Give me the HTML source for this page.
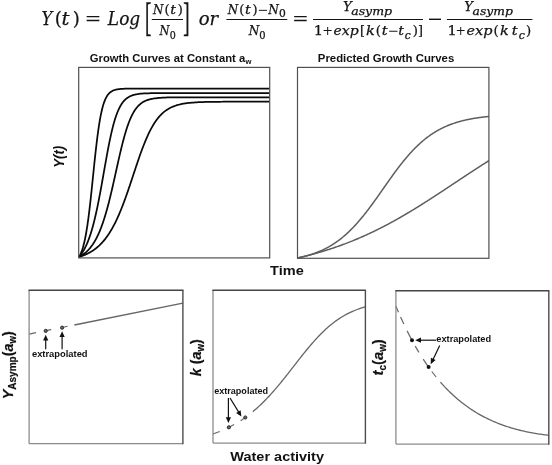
<!DOCTYPE html>
<html><head><meta charset="utf-8"><title>Growth model</title>
<style>
html,body{margin:0;padding:0;background:#fff;}
svg{display:block;}
.ser{font-family:"DejaVu Serif","Liberation Serif",serif;}
.san{font-family:"Liberation Sans","DejaVu Sans",sans-serif;}
.lser{font-family:"Liberation Serif","DejaVu Serif",serif;}
</style></head><body>
<svg width="552" height="465" viewBox="0 0 552 465">
<rect width="552" height="465" fill="#fff"/>
<text x="41.39" y="25.0" font-size="18.2" font-style="italic" font-weight="normal" class="ser" fill="#141414" textLength="10.81" lengthAdjust="spacingAndGlyphs" stroke="#141414" stroke-width="0.25">Y</text>
<text x="54.78" y="24.6" font-size="18.2" class="ser" fill="#141414" stroke="#141414" stroke-width="0.25">(</text>
<text x="61.42" y="25.0" font-size="18.2" font-style="italic" font-weight="normal" class="ser" fill="#141414" textLength="7.95" lengthAdjust="spacingAndGlyphs" stroke="#141414" stroke-width="0.25">t</text>
<text x="72.68" y="24.6" font-size="18.2" class="ser" fill="#141414" stroke="#141414" stroke-width="0.25">)</text>
<text x="84.45" y="25.0" font-size="18.2" font-weight="normal" class="ser" fill="#141414" textLength="17.00" lengthAdjust="spacingAndGlyphs">=</text>
<text x="107.86" y="25.0" font-size="18.2" font-style="italic" font-weight="normal" class="ser" fill="#141414" textLength="32.37" lengthAdjust="spacingAndGlyphs" stroke="#141414" stroke-width="0.25">Log</text>
<text transform="translate(145.09,30.7) scale(1,2.07)" font-size="19" class="lser" fill="#141414" stroke="#141414" stroke-width="0.25">[</text>
<text transform="translate(183.28,30.7) scale(1,2.07)" font-size="19" class="lser" fill="#141414" stroke="#141414" stroke-width="0.25">]</text>
<text x="152.94" y="14.4" font-size="12.4" font-style="italic" font-weight="normal" class="ser" fill="#141414" textLength="10.42" lengthAdjust="spacingAndGlyphs" stroke="#141414" stroke-width="0.25">N</text>
<text x="164.61" y="14.3" font-size="13.0" class="ser" fill="#141414" stroke="#141414" stroke-width="0.25">(</text>
<text x="170.33" y="14.4" font-size="12.4" font-style="italic" font-weight="normal" class="ser" fill="#141414" textLength="5.73" lengthAdjust="spacingAndGlyphs" stroke="#141414" stroke-width="0.25">t</text>
<text x="177.77" y="14.3" font-size="13.0" class="ser" fill="#141414" stroke="#141414" stroke-width="0.25">)</text>
<line x1="151.8" y1="19.5" x2="183.0" y2="19.5" stroke="#141414" stroke-width="1.0"/>
<text x="159.53" y="34.7" font-size="12.700000000000001" font-style="italic" font-weight="normal" class="ser" fill="#141414" textLength="10.04" lengthAdjust="spacingAndGlyphs" stroke="#141414" stroke-width="0.25">N</text>
<text x="169.77" y="38.9" font-size="10.4" font-weight="normal" class="ser" fill="#141414" textLength="6.06" lengthAdjust="spacingAndGlyphs" stroke="#141414" stroke-width="0.25">0</text>
<text x="198.63" y="25.0" font-size="18.2" font-style="italic" font-weight="normal" class="ser" fill="#141414" textLength="19.48" lengthAdjust="spacingAndGlyphs" stroke="#141414" stroke-width="0.25">or</text>
<text x="227.64" y="14.4" font-size="12.4" font-style="italic" font-weight="normal" class="ser" fill="#141414" textLength="10.42" lengthAdjust="spacingAndGlyphs" stroke="#141414" stroke-width="0.25">N</text>
<text x="239.31" y="14.3" font-size="13.0" class="ser" fill="#141414" stroke="#141414" stroke-width="0.25">(</text>
<text x="245.03" y="14.4" font-size="12.4" font-style="italic" font-weight="normal" class="ser" fill="#141414" textLength="5.73" lengthAdjust="spacingAndGlyphs" stroke="#141414" stroke-width="0.25">t</text>
<text x="252.47" y="14.3" font-size="13.0" class="ser" fill="#141414" stroke="#141414" stroke-width="0.25">)</text>
<text x="257.41" y="14.4" font-size="12.4" font-weight="normal" class="ser" fill="#141414" textLength="10.98" lengthAdjust="spacingAndGlyphs">−</text>
<text x="268.14" y="14.4" font-size="12.4" font-style="italic" font-weight="normal" class="ser" fill="#141414" textLength="10.61" lengthAdjust="spacingAndGlyphs" stroke="#141414" stroke-width="0.25">N</text>
<text x="278.99" y="17.4" font-size="10.4" font-weight="normal" class="ser" fill="#141414" textLength="6.82" lengthAdjust="spacingAndGlyphs" stroke="#141414" stroke-width="0.25">0</text>
<line x1="226.4" y1="19.5" x2="287.3" y2="19.5" stroke="#141414" stroke-width="1.0"/>
<text x="248.84" y="34.7" font-size="12.700000000000001" font-style="italic" font-weight="normal" class="ser" fill="#141414" textLength="10.61" lengthAdjust="spacingAndGlyphs" stroke="#141414" stroke-width="0.25">N</text>
<text x="259.25" y="38.9" font-size="10.4" font-weight="normal" class="ser" fill="#141414" textLength="6.31" lengthAdjust="spacingAndGlyphs" stroke="#141414" stroke-width="0.25">0</text>
<text x="291.97" y="25.0" font-size="18.2" font-weight="normal" class="ser" fill="#141414" textLength="16.87" lengthAdjust="spacingAndGlyphs">=</text>
<line x1="313.0" y1="19.5" x2="423.0" y2="19.5" stroke="#141414" stroke-width="1.0"/>
<text x="343.04" y="11.4" font-size="12.4" font-style="italic" font-weight="normal" class="ser" fill="#141414" textLength="8.80" lengthAdjust="spacingAndGlyphs" stroke="#141414" stroke-width="0.25">Y</text>
<text x="351.18" y="15.0" font-size="10.6" font-style="italic" font-weight="normal" class="ser" fill="#141414" textLength="40.92" lengthAdjust="spacingAndGlyphs" stroke="#141414" stroke-width="0.25">asymp</text>
<text x="313.65" y="34.8" font-size="12.700000000000001" font-weight="normal" class="ser" fill="#141414" textLength="9.29" lengthAdjust="spacingAndGlyphs" stroke="#141414" stroke-width="0.25">1</text>
<text x="322.23" y="34.8" font-size="12.700000000000001" font-weight="normal" class="ser" fill="#141414" textLength="10.84" lengthAdjust="spacingAndGlyphs">+</text>
<text x="333.50" y="34.8" font-size="12.700000000000001" font-style="italic" font-weight="normal" class="ser" fill="#141414" textLength="25.23" lengthAdjust="spacingAndGlyphs" stroke="#141414" stroke-width="0.25">exp</text>
<text x="359.97" y="34.8" font-size="12.700000000000001" class="ser" fill="#141414" stroke="#141414" stroke-width="0.25">[</text>
<text x="365.99" y="34.8" font-size="12.700000000000001" font-style="italic" font-weight="normal" class="ser" fill="#141414" textLength="8.85" lengthAdjust="spacingAndGlyphs" stroke="#141414" stroke-width="0.25">k</text>
<text x="375.75" y="34.7" font-size="13.3" class="ser" fill="#141414" stroke="#141414" stroke-width="0.25">(</text>
<text x="381.81" y="34.8" font-size="12.700000000000001" font-style="italic" font-weight="normal" class="ser" fill="#141414" textLength="5.87" lengthAdjust="spacingAndGlyphs" stroke="#141414" stroke-width="0.25">t</text>
<text x="387.90" y="34.8" font-size="12.700000000000001" font-weight="normal" class="ser" fill="#141414" textLength="11.11" lengthAdjust="spacingAndGlyphs">−</text>
<text x="398.32" y="34.8" font-size="12.700000000000001" font-style="italic" font-weight="normal" class="ser" fill="#141414" textLength="5.76" lengthAdjust="spacingAndGlyphs" stroke="#141414" stroke-width="0.25">t</text>
<text x="404.84" y="38.6" font-size="10.6" font-style="italic" font-weight="normal" class="ser" fill="#141414" textLength="6.07" lengthAdjust="spacingAndGlyphs" stroke="#141414" stroke-width="0.25">c</text>
<text x="412.71" y="34.7" font-size="13.3" class="ser" fill="#141414" stroke="#141414" stroke-width="0.25">)</text>
<text x="417.93" y="34.8" font-size="12.700000000000001" class="ser" fill="#141414" stroke="#141414" stroke-width="0.25">]</text>
<text x="427.07" y="25.2" font-size="18.2" font-weight="normal" class="ser" fill="#141414" textLength="16.06" lengthAdjust="spacingAndGlyphs">−</text>
<line x1="446.9" y1="19.5" x2="532.4" y2="19.5" stroke="#141414" stroke-width="1.0"/>
<text x="464.35" y="11.4" font-size="12.4" font-style="italic" font-weight="normal" class="ser" fill="#141414" textLength="8.70" lengthAdjust="spacingAndGlyphs" stroke="#141414" stroke-width="0.25">Y</text>
<text x="472.58" y="15.0" font-size="10.6" font-style="italic" font-weight="normal" class="ser" fill="#141414" textLength="40.20" lengthAdjust="spacingAndGlyphs" stroke="#141414" stroke-width="0.25">asymp</text>
<text x="447.40" y="34.8" font-size="12.700000000000001" font-weight="normal" class="ser" fill="#141414" textLength="9.29" lengthAdjust="spacingAndGlyphs" stroke="#141414" stroke-width="0.25">1</text>
<text x="455.38" y="34.8" font-size="12.700000000000001" font-weight="normal" class="ser" fill="#141414" textLength="10.44" lengthAdjust="spacingAndGlyphs">+</text>
<text x="466.59" y="34.8" font-size="12.700000000000001" font-style="italic" font-weight="normal" class="ser" fill="#141414" textLength="25.95" lengthAdjust="spacingAndGlyphs" stroke="#141414" stroke-width="0.25">exp</text>
<text x="493.50" y="34.7" font-size="13.3" class="ser" fill="#141414" stroke="#141414" stroke-width="0.25">(</text>
<text x="499.99" y="34.8" font-size="12.700000000000001" font-style="italic" font-weight="normal" class="ser" fill="#141414" textLength="8.85" lengthAdjust="spacingAndGlyphs" stroke="#141414" stroke-width="0.25">k</text>
<text x="511.86" y="34.8" font-size="12.700000000000001" font-style="italic" font-weight="normal" class="ser" fill="#141414" textLength="5.87" lengthAdjust="spacingAndGlyphs" stroke="#141414" stroke-width="0.25">t</text>
<text x="518.83" y="38.6" font-size="10.6" font-style="italic" font-weight="normal" class="ser" fill="#141414" textLength="6.18" lengthAdjust="spacingAndGlyphs" stroke="#141414" stroke-width="0.25">c</text>
<text x="526.06" y="34.7" font-size="13.3" class="ser" fill="#141414" stroke="#141414" stroke-width="0.25">)</text>
<clipPath id="c1"><rect x="77.7" y="67.4" width="192.0" height="191.5"/></clipPath>
<path d="M78.90,257.00 L79.30,256.35 L79.71,255.64 L80.11,254.88 L80.51,254.05 L80.91,253.16 L81.32,252.19 L81.72,251.14 L82.12,250.01 L82.52,248.79 L82.93,247.48 L83.33,246.07 L83.73,244.55 L84.13,242.93 L84.54,241.19 L84.94,239.34 L85.34,237.36 L85.75,235.25 L86.15,233.02 L86.55,230.65 L86.95,228.15 L87.36,225.51 L87.76,222.73 L88.16,219.83 L88.56,216.79 L88.97,213.62 L89.37,210.33 L89.77,206.92 L90.18,203.41 L90.58,199.80 L90.98,196.10 L91.38,192.33 L91.79,188.49 L92.19,184.61 L92.59,180.70 L92.99,176.77 L93.40,172.83 L93.80,168.91 L94.20,165.03 L94.60,161.18 L95.01,157.40 L95.41,153.68 L95.81,150.06 L96.22,146.53 L96.62,143.10 L97.02,139.79 L97.42,136.60 L97.83,133.54 L98.23,130.61 L98.63,127.81 L99.03,125.15 L99.44,122.62 L99.84,120.23 L100.24,117.97 L100.64,115.84 L101.05,113.84 L101.45,111.97 L101.85,110.21 L102.26,108.57 L102.66,107.03 L103.06,105.60 L103.46,104.28 L103.87,103.04 L104.27,101.90 L104.67,100.83 L105.07,99.85 L105.48,98.94 L105.88,98.10 L106.28,97.33 L106.69,96.61 L107.09,95.95 L107.49,95.34 L107.89,94.79 L108.30,94.27 L108.70,93.80 L109.10,93.36 L109.50,92.96 L109.91,92.60 L110.31,92.26 L110.71,91.95 L111.11,91.67 L111.52,91.41 L111.92,91.17 L112.32,90.95 L112.73,90.75 L113.13,90.56 L113.53,90.40 L113.93,90.24 L114.34,90.10 L114.74,89.97 L115.14,89.85 L115.54,89.74 L115.95,89.64 L116.35,89.55 L116.75,89.47 L117.16,89.39 L117.56,89.33 L117.96,89.26 L118.36,89.20 L118.77,89.15 L119.17,89.10 L119.57,89.06 L119.97,89.02 L120.38,88.98 L120.78,88.94 L121.18,88.91 L121.58,88.88 L121.99,88.86 L122.39,88.83 L122.79,88.81 L123.20,88.79 L123.60,88.77 L124.00,88.76 L124.40,88.74 L124.81,88.73 L125.21,88.72 L125.61,88.70 L126.01,88.69 L126.42,88.68 L126.82,88.67 L127.22,88.67 L127.62,88.66 L128.03,88.65 L128.43,88.65 L128.83,88.64 L129.24,88.64 L129.64,88.63 L130.04,88.63 L130.44,88.62 L130.85,88.62 L131.25,88.61 L131.65,88.61 L132.05,88.61 L132.46,88.61 L132.86,88.60 L133.26,88.60 L133.67,88.60 L134.07,88.60 L134.47,88.60 L134.87,88.60 L135.28,88.59 L135.68,88.59 L136.08,88.59 L136.48,88.59 L136.89,88.59 L137.29,88.59 L137.69,88.59 L138.09,88.59 L138.50,88.59 L138.90,88.59 L140.56,88.58 L142.21,88.58 L143.87,88.58 L145.52,88.58 L147.18,88.58 L148.83,88.58 L150.49,88.58 L152.15,88.58 L153.80,88.58 L155.46,88.58 L157.11,88.58 L158.77,88.58 L160.42,88.58 L162.08,88.58 L163.74,88.58 L165.39,88.58 L167.05,88.58 L168.70,88.58 L170.36,88.58 L172.01,88.58 L173.67,88.58 L175.33,88.58 L176.98,88.58 L178.64,88.58 L180.29,88.58 L181.95,88.58 L183.60,88.58 L185.26,88.58 L186.92,88.58 L188.57,88.58 L190.23,88.58 L191.88,88.58 L193.54,88.58 L195.19,88.58 L196.85,88.58 L198.51,88.58 L200.16,88.58 L201.82,88.58 L203.47,88.58 L205.13,88.58 L206.78,88.58 L208.44,88.58 L210.09,88.58 L211.75,88.58 L213.41,88.58 L215.06,88.58 L216.72,88.58 L218.37,88.58 L220.03,88.58 L221.68,88.58 L223.34,88.58 L225.00,88.58 L226.65,88.58 L228.31,88.58 L229.96,88.58 L231.62,88.58 L233.27,88.58 L234.93,88.58 L236.59,88.58 L238.24,88.58 L239.90,88.58 L241.55,88.58 L243.21,88.58 L244.86,88.58 L246.52,88.58 L248.18,88.58 L249.83,88.58 L251.49,88.58 L253.14,88.58 L254.80,88.58 L256.45,88.58 L258.11,88.58 L259.77,88.58 L261.42,88.58 L263.08,88.58 L264.73,88.58 L266.39,88.58 L268.04,88.58 L269.70,88.58" fill="none" stroke="#0a0a0a" stroke-width="1.75" stroke-linejoin="round" clip-path="url(#c1)"/>
<path d="M78.90,257.00 L79.30,256.54 L79.71,256.07 L80.11,255.57 L80.51,255.06 L80.91,254.53 L81.32,253.98 L81.72,253.41 L82.12,252.81 L82.52,252.20 L82.93,251.56 L83.33,250.89 L83.73,250.21 L84.13,249.49 L84.54,248.75 L84.94,247.99 L85.34,247.19 L85.75,246.37 L86.15,245.52 L86.55,244.64 L86.95,243.73 L87.36,242.78 L87.76,241.80 L88.16,240.79 L88.56,239.75 L88.97,238.67 L89.37,237.55 L89.77,236.40 L90.18,235.21 L90.58,233.98 L90.98,232.71 L91.38,231.40 L91.79,230.05 L92.19,228.67 L92.59,227.24 L92.99,225.77 L93.40,224.25 L93.80,222.70 L94.20,221.10 L94.60,219.46 L95.01,217.78 L95.41,216.06 L95.81,214.30 L96.22,212.49 L96.62,210.65 L97.02,208.76 L97.42,206.84 L97.83,204.88 L98.23,202.88 L98.63,200.85 L99.03,198.78 L99.44,196.68 L99.84,194.55 L100.24,192.40 L100.64,190.22 L101.05,188.01 L101.45,185.78 L101.85,183.54 L102.26,181.28 L102.66,179.01 L103.06,176.73 L103.46,174.45 L103.87,172.16 L104.27,169.87 L104.67,167.58 L105.07,165.31 L105.48,163.04 L105.88,160.79 L106.28,158.56 L106.69,156.34 L107.09,154.15 L107.49,151.99 L107.89,149.86 L108.30,147.75 L108.70,145.69 L109.10,143.66 L109.50,141.67 L109.91,139.72 L110.31,137.82 L110.71,135.96 L111.11,134.15 L111.52,132.39 L111.92,130.68 L112.32,129.01 L112.73,127.40 L113.13,125.84 L113.53,124.33 L113.93,122.87 L114.34,121.46 L114.74,120.10 L115.14,118.80 L115.54,117.54 L115.95,116.33 L116.35,115.17 L116.75,114.06 L117.16,113.00 L117.56,111.98 L117.96,111.01 L118.36,110.08 L118.77,109.19 L119.17,108.34 L119.57,107.53 L119.97,106.76 L120.38,106.03 L120.78,105.33 L121.18,104.66 L121.58,104.03 L121.99,103.43 L122.39,102.86 L122.79,102.32 L123.20,101.81 L123.60,101.33 L124.00,100.87 L124.40,100.43 L124.81,100.02 L125.21,99.63 L125.61,99.26 L126.01,98.91 L126.42,98.57 L126.82,98.26 L127.22,97.97 L127.62,97.69 L128.03,97.42 L128.43,97.17 L128.83,96.94 L129.24,96.71 L129.64,96.50 L130.04,96.31 L130.44,96.12 L130.85,95.94 L131.25,95.78 L131.65,95.62 L132.05,95.47 L132.46,95.33 L132.86,95.20 L133.26,95.08 L133.67,94.96 L134.07,94.85 L134.47,94.74 L134.87,94.65 L135.28,94.55 L135.68,94.47 L136.08,94.39 L136.48,94.31 L136.89,94.24 L137.29,94.17 L137.69,94.10 L138.09,94.04 L138.50,93.99 L138.90,93.93 L140.56,93.74 L142.21,93.59 L143.87,93.48 L145.52,93.39 L147.18,93.32 L148.83,93.26 L150.49,93.22 L152.15,93.19 L153.80,93.16 L155.46,93.14 L157.11,93.12 L158.77,93.11 L160.42,93.10 L162.08,93.09 L163.74,93.09 L165.39,93.08 L167.05,93.08 L168.70,93.08 L170.36,93.08 L172.01,93.07 L173.67,93.07 L175.33,93.07 L176.98,93.07 L178.64,93.07 L180.29,93.07 L181.95,93.07 L183.60,93.07 L185.26,93.07 L186.92,93.07 L188.57,93.07 L190.23,93.07 L191.88,93.07 L193.54,93.07 L195.19,93.07 L196.85,93.07 L198.51,93.07 L200.16,93.07 L201.82,93.07 L203.47,93.07 L205.13,93.07 L206.78,93.07 L208.44,93.07 L210.09,93.07 L211.75,93.07 L213.41,93.07 L215.06,93.07 L216.72,93.07 L218.37,93.07 L220.03,93.07 L221.68,93.07 L223.34,93.07 L225.00,93.07 L226.65,93.07 L228.31,93.07 L229.96,93.07 L231.62,93.07 L233.27,93.07 L234.93,93.07 L236.59,93.07 L238.24,93.07 L239.90,93.07 L241.55,93.07 L243.21,93.07 L244.86,93.07 L246.52,93.07 L248.18,93.07 L249.83,93.07 L251.49,93.07 L253.14,93.07 L254.80,93.07 L256.45,93.07 L258.11,93.07 L259.77,93.07 L261.42,93.07 L263.08,93.07 L264.73,93.07 L266.39,93.07 L268.04,93.07 L269.70,93.07" fill="none" stroke="#0a0a0a" stroke-width="1.75" stroke-linejoin="round" clip-path="url(#c1)"/>
<path d="M78.90,257.00 L79.30,256.79 L79.71,256.58 L80.11,256.36 L80.51,256.13 L80.91,255.89 L81.32,255.65 L81.72,255.40 L82.12,255.14 L82.52,254.87 L82.93,254.60 L83.33,254.31 L83.73,254.02 L84.13,253.72 L84.54,253.40 L84.94,253.08 L85.34,252.75 L85.75,252.41 L86.15,252.05 L86.55,251.69 L86.95,251.31 L87.36,250.92 L87.76,250.52 L88.16,250.11 L88.56,249.68 L88.97,249.24 L89.37,248.79 L89.77,248.32 L90.18,247.84 L90.58,247.34 L90.98,246.83 L91.38,246.31 L91.79,245.76 L92.19,245.20 L92.59,244.63 L92.99,244.03 L93.40,243.42 L93.80,242.79 L94.20,242.14 L94.60,241.47 L95.01,240.79 L95.41,240.08 L95.81,239.35 L96.22,238.60 L96.62,237.83 L97.02,237.04 L97.42,236.22 L97.83,235.38 L98.23,234.52 L98.63,233.64 L99.03,232.73 L99.44,231.79 L99.84,230.84 L100.24,229.85 L100.64,228.84 L101.05,227.80 L101.45,226.74 L101.85,225.65 L102.26,224.54 L102.66,223.39 L103.06,222.22 L103.46,221.02 L103.87,219.80 L104.27,218.54 L104.67,217.26 L105.07,215.95 L105.48,214.61 L105.88,213.24 L106.28,211.85 L106.69,210.43 L107.09,208.98 L107.49,207.50 L107.89,206.00 L108.30,204.48 L108.70,202.92 L109.10,201.34 L109.50,199.74 L109.91,198.12 L110.31,196.47 L110.71,194.80 L111.11,193.11 L111.52,191.41 L111.92,189.68 L112.32,187.94 L112.73,186.18 L113.13,184.41 L113.53,182.63 L113.93,180.83 L114.34,179.03 L114.74,177.22 L115.14,175.40 L115.54,173.58 L115.95,171.76 L116.35,169.94 L116.75,168.12 L117.16,166.30 L117.56,164.49 L117.96,162.69 L118.36,160.89 L118.77,159.11 L119.17,157.34 L119.57,155.59 L119.97,153.85 L120.38,152.13 L120.78,150.43 L121.18,148.76 L121.58,147.10 L121.99,145.48 L122.39,143.87 L122.79,142.30 L123.20,140.75 L123.60,139.24 L124.00,137.75 L124.40,136.29 L124.81,134.87 L125.21,133.48 L125.61,132.13 L126.01,130.80 L126.42,129.52 L126.82,128.26 L127.22,127.05 L127.62,125.86 L128.03,124.71 L128.43,123.60 L128.83,122.52 L129.24,121.48 L129.64,120.46 L130.04,119.49 L130.44,118.54 L130.85,117.63 L131.25,116.75 L131.65,115.91 L132.05,115.09 L132.46,114.30 L132.86,113.55 L133.26,112.82 L133.67,112.12 L134.07,111.45 L134.47,110.80 L134.87,110.19 L135.28,109.59 L135.68,109.02 L136.08,108.48 L136.48,107.96 L136.89,107.46 L137.29,106.98 L137.69,106.52 L138.09,106.08 L138.50,105.67 L138.90,105.27 L140.56,103.80 L142.21,102.59 L143.87,101.60 L145.52,100.79 L147.18,100.12 L148.83,99.58 L150.49,99.14 L152.15,98.78 L153.80,98.49 L155.46,98.26 L157.11,98.07 L158.77,97.91 L160.42,97.79 L162.08,97.69 L163.74,97.61 L165.39,97.54 L167.05,97.49 L168.70,97.45 L170.36,97.41 L172.01,97.38 L173.67,97.36 L175.33,97.34 L176.98,97.33 L178.64,97.32 L180.29,97.31 L181.95,97.30 L183.60,97.29 L185.26,97.29 L186.92,97.28 L188.57,97.28 L190.23,97.28 L191.88,97.27 L193.54,97.27 L195.19,97.27 L196.85,97.27 L198.51,97.27 L200.16,97.27 L201.82,97.27 L203.47,97.27 L205.13,97.27 L206.78,97.27 L208.44,97.27 L210.09,97.27 L211.75,97.27 L213.41,97.27 L215.06,97.27 L216.72,97.27 L218.37,97.27 L220.03,97.27 L221.68,97.27 L223.34,97.27 L225.00,97.27 L226.65,97.27 L228.31,97.27 L229.96,97.27 L231.62,97.27 L233.27,97.27 L234.93,97.27 L236.59,97.27 L238.24,97.27 L239.90,97.27 L241.55,97.27 L243.21,97.27 L244.86,97.27 L246.52,97.27 L248.18,97.27 L249.83,97.27 L251.49,97.27 L253.14,97.27 L254.80,97.27 L256.45,97.27 L258.11,97.27 L259.77,97.27 L261.42,97.27 L263.08,97.27 L264.73,97.27 L266.39,97.27 L268.04,97.27 L269.70,97.27" fill="none" stroke="#0a0a0a" stroke-width="1.75" stroke-linejoin="round" clip-path="url(#c1)"/>
<path d="M78.90,257.00 L79.30,256.88 L79.71,256.75 L80.11,256.62 L80.51,256.49 L80.91,256.35 L81.32,256.21 L81.72,256.07 L82.12,255.93 L82.52,255.78 L82.93,255.63 L83.33,255.47 L83.73,255.31 L84.13,255.15 L84.54,254.99 L84.94,254.82 L85.34,254.64 L85.75,254.46 L86.15,254.28 L86.55,254.10 L86.95,253.91 L87.36,253.71 L87.76,253.51 L88.16,253.31 L88.56,253.10 L88.97,252.89 L89.37,252.67 L89.77,252.45 L90.18,252.22 L90.58,251.99 L90.98,251.75 L91.38,251.50 L91.79,251.26 L92.19,251.00 L92.59,250.74 L92.99,250.47 L93.40,250.20 L93.80,249.92 L94.20,249.64 L94.60,249.35 L95.01,249.05 L95.41,248.75 L95.81,248.44 L96.22,248.12 L96.62,247.80 L97.02,247.46 L97.42,247.13 L97.83,246.78 L98.23,246.43 L98.63,246.06 L99.03,245.70 L99.44,245.32 L99.84,244.93 L100.24,244.54 L100.64,244.14 L101.05,243.73 L101.45,243.31 L101.85,242.88 L102.26,242.44 L102.66,242.00 L103.06,241.54 L103.46,241.08 L103.87,240.60 L104.27,240.12 L104.67,239.62 L105.07,239.12 L105.48,238.61 L105.88,238.08 L106.28,237.55 L106.69,237.00 L107.09,236.44 L107.49,235.87 L107.89,235.30 L108.30,234.71 L108.70,234.10 L109.10,233.49 L109.50,232.87 L109.91,232.23 L110.31,231.58 L110.71,230.92 L111.11,230.25 L111.52,229.56 L111.92,228.86 L112.32,228.15 L112.73,227.43 L113.13,226.70 L113.53,225.95 L113.93,225.19 L114.34,224.41 L114.74,223.63 L115.14,222.83 L115.54,222.01 L115.95,221.19 L116.35,220.35 L116.75,219.50 L117.16,218.63 L117.56,217.75 L117.96,216.86 L118.36,215.95 L118.77,215.04 L119.17,214.11 L119.57,213.16 L119.97,212.21 L120.38,211.24 L120.78,210.26 L121.18,209.26 L121.58,208.26 L121.99,207.24 L122.39,206.21 L122.79,205.17 L123.20,204.11 L123.60,203.05 L124.00,201.97 L124.40,200.89 L124.81,199.79 L125.21,198.68 L125.61,197.57 L126.01,196.44 L126.42,195.31 L126.82,194.16 L127.22,193.01 L127.62,191.85 L128.03,190.68 L128.43,189.51 L128.83,188.33 L129.24,187.14 L129.64,185.95 L130.04,184.75 L130.44,183.55 L130.85,182.35 L131.25,181.14 L131.65,179.92 L132.05,178.71 L132.46,177.49 L132.86,176.28 L133.26,175.06 L133.67,173.84 L134.07,172.62 L134.47,171.41 L134.87,170.19 L135.28,168.98 L135.68,167.77 L136.08,166.56 L136.48,165.36 L136.89,164.17 L137.29,162.98 L137.69,161.79 L138.09,160.61 L138.50,159.44 L138.90,158.28 L140.56,153.58 L142.21,149.06 L143.87,144.74 L145.52,140.65 L147.18,136.80 L148.83,133.22 L150.49,129.89 L152.15,126.83 L153.80,124.04 L155.46,121.50 L157.11,119.20 L158.77,117.13 L160.42,115.28 L162.08,113.63 L163.74,112.16 L165.39,110.85 L167.05,109.70 L168.70,108.68 L170.36,107.79 L172.01,107.01 L173.67,106.32 L175.33,105.72 L176.98,105.19 L178.64,104.73 L180.29,104.33 L181.95,103.98 L183.60,103.68 L185.26,103.42 L186.92,103.19 L188.57,102.99 L190.23,102.81 L191.88,102.66 L193.54,102.53 L195.19,102.42 L196.85,102.32 L198.51,102.23 L200.16,102.16 L201.82,102.10 L203.47,102.04 L205.13,101.99 L206.78,101.95 L208.44,101.91 L210.09,101.88 L211.75,101.86 L213.41,101.83 L215.06,101.81 L216.72,101.79 L218.37,101.78 L220.03,101.76 L221.68,101.75 L223.34,101.74 L225.00,101.73 L226.65,101.73 L228.31,101.72 L229.96,101.72 L231.62,101.71 L233.27,101.71 L234.93,101.70 L236.59,101.70 L238.24,101.70 L239.90,101.69 L241.55,101.69 L243.21,101.69 L244.86,101.69 L246.52,101.69 L248.18,101.69 L249.83,101.69 L251.49,101.68 L253.14,101.68 L254.80,101.68 L256.45,101.68 L258.11,101.68 L259.77,101.68 L261.42,101.68 L263.08,101.68 L264.73,101.68 L266.39,101.68 L268.04,101.68 L269.70,101.68" fill="none" stroke="#0a0a0a" stroke-width="1.75" stroke-linejoin="round" clip-path="url(#c1)"/>
<rect x="78.7" y="67.4" width="191.0" height="190.5" fill="none" stroke="#505050" stroke-width="1.2"/>
<path d="M297.50,258.00 L298.14,257.87 L298.78,257.74 L299.42,257.60 L300.06,257.46 L300.70,257.32 L301.34,257.17 L301.98,257.03 L302.62,256.87 L303.26,256.72 L303.90,256.56 L304.54,256.40 L305.18,256.23 L305.82,256.06 L306.46,255.89 L307.10,255.71 L307.74,255.53 L308.38,255.34 L309.02,255.15 L309.66,254.96 L310.30,254.76 L310.94,254.56 L311.58,254.35 L312.22,254.14 L312.86,253.92 L313.50,253.70 L314.14,253.48 L314.78,253.25 L315.42,253.01 L316.06,252.77 L316.70,252.53 L317.34,252.28 L317.98,252.02 L318.62,251.76 L319.26,251.49 L319.90,251.22 L320.54,250.94 L321.18,250.66 L321.83,250.37 L322.47,250.08 L323.11,249.78 L323.75,249.47 L324.39,249.16 L325.03,248.84 L325.67,248.51 L326.31,248.18 L326.95,247.84 L327.59,247.50 L328.23,247.14 L328.87,246.78 L329.51,246.42 L330.15,246.05 L330.79,245.67 L331.43,245.28 L332.07,244.89 L332.71,244.49 L333.35,244.08 L333.99,243.66 L334.63,243.24 L335.27,242.81 L335.91,242.37 L336.55,241.92 L337.19,241.47 L337.83,241.00 L338.47,240.53 L339.11,240.06 L339.75,239.57 L340.39,239.07 L341.03,238.57 L341.67,238.06 L342.31,237.54 L342.95,237.01 L343.59,236.48 L344.23,235.93 L344.87,235.38 L345.51,234.82 L346.15,234.25 L346.79,233.67 L347.43,233.08 L348.07,232.48 L348.71,231.88 L349.35,231.27 L349.99,230.65 L350.63,230.02 L351.27,229.38 L351.91,228.73 L352.55,228.07 L353.19,227.41 L353.83,226.74 L354.47,226.05 L355.11,225.37 L355.75,224.67 L356.39,223.96 L357.03,223.25 L357.67,222.52 L358.31,221.79 L358.95,221.06 L359.59,220.31 L360.23,219.55 L360.87,218.79 L361.51,218.02 L362.15,217.25 L362.79,216.46 L363.43,215.67 L364.07,214.87 L364.71,214.07 L365.35,213.26 L365.99,212.44 L366.63,211.61 L367.27,210.78 L367.91,209.95 L368.55,209.10 L369.19,208.25 L369.84,207.40 L370.48,206.54 L371.12,205.68 L371.76,204.81 L372.40,203.94 L373.04,203.06 L373.68,202.18 L374.32,201.29 L374.96,200.40 L375.60,199.51 L376.24,198.61 L376.88,197.71 L377.52,196.81 L378.16,195.91 L378.80,195.00 L379.44,194.09 L380.08,193.18 L380.72,192.27 L381.36,191.36 L382.00,190.44 L382.64,189.53 L383.28,188.62 L383.92,187.70 L384.56,186.79 L385.20,185.88 L385.84,184.96 L386.48,184.05 L387.12,183.14 L387.76,182.24 L388.40,181.33 L389.04,180.43 L389.68,179.52 L390.32,178.62 L390.96,177.73 L391.60,176.84 L392.24,175.95 L392.88,175.06 L393.52,174.18 L394.16,173.30 L394.80,172.43 L395.44,171.56 L396.08,170.70 L396.72,169.84 L397.36,168.98 L398.00,168.14 L398.64,167.29 L399.28,166.46 L399.92,165.63 L400.56,164.80 L401.20,163.99 L401.84,163.17 L402.48,162.37 L403.12,161.57 L403.76,160.78 L404.40,160.00 L405.04,159.22 L405.68,158.45 L406.32,157.69 L406.96,156.94 L407.60,156.19 L408.24,155.46 L408.88,154.73 L409.52,154.00 L410.16,153.29 L410.80,152.58 L411.44,151.89 L412.08,151.20 L412.72,150.52 L413.36,149.85 L414.00,149.18 L414.64,148.53 L415.28,147.88 L415.92,147.24 L416.56,146.61 L417.21,145.99 L417.85,145.38 L418.49,144.78 L419.13,144.18 L419.77,143.59 L420.41,143.02 L421.05,142.45 L421.69,141.89 L422.33,141.33 L422.97,140.79 L423.61,140.25 L424.25,139.73 L424.89,139.21 L425.53,138.70 L426.17,138.20 L426.81,137.70 L427.45,137.22 L428.09,136.74 L428.73,136.27 L429.37,135.81 L430.01,135.35 L430.65,134.91 L431.29,134.47 L431.93,134.04 L432.57,133.62 L433.21,133.20 L433.85,132.79 L434.49,132.39 L435.13,132.00 L435.77,131.61 L436.41,131.23 L437.05,130.86 L437.69,130.50 L438.33,130.14 L438.97,129.79 L439.61,129.44 L440.25,129.11 L440.89,128.77 L441.53,128.45 L442.17,128.13 L442.81,127.82 L443.45,127.51 L444.09,127.21 L444.73,126.92 L445.37,126.63 L446.01,126.35 L446.65,126.07 L447.29,125.80 L447.93,125.53 L448.57,125.27 L449.21,125.02 L449.85,124.77 L450.49,124.52 L451.13,124.28 L451.77,124.05 L452.41,123.82 L453.05,123.59 L453.69,123.37 L454.33,123.16 L454.97,122.95 L455.61,122.74 L456.25,122.54 L456.89,122.34 L457.53,122.15 L458.17,121.96 L458.81,121.77 L459.45,121.59 L460.09,121.41 L460.73,121.24 L461.37,121.07 L462.01,120.90 L462.65,120.74 L463.29,120.58 L463.93,120.43 L464.57,120.28 L465.22,120.13 L465.86,119.98 L466.50,119.84 L467.14,119.70 L467.78,119.56 L468.42,119.43 L469.06,119.30 L469.70,119.18 L470.34,119.05 L470.98,118.93 L471.62,118.81 L472.26,118.70 L472.90,118.58 L473.54,118.47 L474.18,118.36 L474.82,118.26 L475.46,118.15 L476.10,118.05 L476.74,117.96 L477.38,117.86 L478.02,117.76 L478.66,117.67 L479.30,117.58 L479.94,117.49 L480.58,117.41 L481.22,117.32 L481.86,117.24 L482.50,117.16 L483.14,117.08 L483.78,117.01 L484.42,116.93 L485.06,116.86 L485.70,116.79 L486.34,116.72 L486.98,116.65 L487.62,116.59 L488.26,116.52 L488.90,116.46" fill="none" stroke="#5e5e5e" stroke-width="1.5" stroke-linejoin="round"/>
<path d="M297.50,258.00 L298.14,257.85 L298.78,257.71 L299.42,257.56 L300.06,257.41 L300.70,257.26 L301.34,257.10 L301.98,256.95 L302.62,256.80 L303.26,256.64 L303.90,256.49 L304.54,256.33 L305.18,256.17 L305.82,256.01 L306.46,255.85 L307.10,255.69 L307.74,255.52 L308.38,255.36 L309.02,255.19 L309.66,255.02 L310.30,254.86 L310.94,254.69 L311.58,254.52 L312.22,254.34 L312.86,254.17 L313.50,254.00 L314.14,253.82 L314.78,253.64 L315.42,253.47 L316.06,253.29 L316.70,253.11 L317.34,252.92 L317.98,252.74 L318.62,252.56 L319.26,252.37 L319.90,252.18 L320.54,252.00 L321.18,251.81 L321.83,251.62 L322.47,251.42 L323.11,251.23 L323.75,251.04 L324.39,250.84 L325.03,250.64 L325.67,250.44 L326.31,250.24 L326.95,250.04 L327.59,249.84 L328.23,249.64 L328.87,249.43 L329.51,249.22 L330.15,249.02 L330.79,248.81 L331.43,248.59 L332.07,248.38 L332.71,248.17 L333.35,247.95 L333.99,247.74 L334.63,247.52 L335.27,247.30 L335.91,247.08 L336.55,246.86 L337.19,246.63 L337.83,246.41 L338.47,246.18 L339.11,245.96 L339.75,245.73 L340.39,245.50 L341.03,245.26 L341.67,245.03 L342.31,244.79 L342.95,244.56 L343.59,244.32 L344.23,244.08 L344.87,243.84 L345.51,243.60 L346.15,243.35 L346.79,243.11 L347.43,242.86 L348.07,242.62 L348.71,242.37 L349.35,242.11 L349.99,241.86 L350.63,241.61 L351.27,241.35 L351.91,241.10 L352.55,240.84 L353.19,240.58 L353.83,240.32 L354.47,240.05 L355.11,239.79 L355.75,239.52 L356.39,239.26 L357.03,238.99 L357.67,238.72 L358.31,238.44 L358.95,238.17 L359.59,237.90 L360.23,237.62 L360.87,237.34 L361.51,237.06 L362.15,236.78 L362.79,236.50 L363.43,236.22 L364.07,235.93 L364.71,235.64 L365.35,235.35 L365.99,235.06 L366.63,234.77 L367.27,234.48 L367.91,234.19 L368.55,233.89 L369.19,233.59 L369.84,233.29 L370.48,232.99 L371.12,232.69 L371.76,232.39 L372.40,232.08 L373.04,231.78 L373.68,231.47 L374.32,231.16 L374.96,230.85 L375.60,230.54 L376.24,230.22 L376.88,229.91 L377.52,229.59 L378.16,229.27 L378.80,228.95 L379.44,228.63 L380.08,228.31 L380.72,227.98 L381.36,227.66 L382.00,227.33 L382.64,227.00 L383.28,226.67 L383.92,226.34 L384.56,226.01 L385.20,225.68 L385.84,225.34 L386.48,225.00 L387.12,224.66 L387.76,224.33 L388.40,223.98 L389.04,223.64 L389.68,223.30 L390.32,222.95 L390.96,222.61 L391.60,222.26 L392.24,221.91 L392.88,221.56 L393.52,221.20 L394.16,220.85 L394.80,220.50 L395.44,220.14 L396.08,219.78 L396.72,219.42 L397.36,219.06 L398.00,218.70 L398.64,218.34 L399.28,217.98 L399.92,217.61 L400.56,217.24 L401.20,216.88 L401.84,216.51 L402.48,216.14 L403.12,215.77 L403.76,215.39 L404.40,215.02 L405.04,214.64 L405.68,214.27 L406.32,213.89 L406.96,213.51 L407.60,213.13 L408.24,212.75 L408.88,212.37 L409.52,211.99 L410.16,211.60 L410.80,211.22 L411.44,210.83 L412.08,210.44 L412.72,210.06 L413.36,209.67 L414.00,209.28 L414.64,208.88 L415.28,208.49 L415.92,208.10 L416.56,207.70 L417.21,207.31 L417.85,206.91 L418.49,206.51 L419.13,206.12 L419.77,205.72 L420.41,205.32 L421.05,204.91 L421.69,204.51 L422.33,204.11 L422.97,203.71 L423.61,203.30 L424.25,202.90 L424.89,202.49 L425.53,202.08 L426.17,201.68 L426.81,201.27 L427.45,200.86 L428.09,200.45 L428.73,200.04 L429.37,199.63 L430.01,199.21 L430.65,198.80 L431.29,198.39 L431.93,197.97 L432.57,197.56 L433.21,197.14 L433.85,196.73 L434.49,196.31 L435.13,195.90 L435.77,195.48 L436.41,195.06 L437.05,194.64 L437.69,194.22 L438.33,193.80 L438.97,193.38 L439.61,192.96 L440.25,192.54 L440.89,192.12 L441.53,191.70 L442.17,191.28 L442.81,190.86 L443.45,190.43 L444.09,190.01 L444.73,189.59 L445.37,189.16 L446.01,188.74 L446.65,188.32 L447.29,187.89 L447.93,187.47 L448.57,187.04 L449.21,186.62 L449.85,186.19 L450.49,185.77 L451.13,185.34 L451.77,184.92 L452.41,184.49 L453.05,184.07 L453.69,183.64 L454.33,183.22 L454.97,182.79 L455.61,182.37 L456.25,181.94 L456.89,181.52 L457.53,181.09 L458.17,180.67 L458.81,180.24 L459.45,179.82 L460.09,179.39 L460.73,178.97 L461.37,178.54 L462.01,178.12 L462.65,177.69 L463.29,177.27 L463.93,176.84 L464.57,176.42 L465.22,176.00 L465.86,175.58 L466.50,175.15 L467.14,174.73 L467.78,174.31 L468.42,173.89 L469.06,173.47 L469.70,173.05 L470.34,172.62 L470.98,172.20 L471.62,171.79 L472.26,171.37 L472.90,170.95 L473.54,170.53 L474.18,170.11 L474.82,169.70 L475.46,169.28 L476.10,168.86 L476.74,168.45 L477.38,168.03 L478.02,167.62 L478.66,167.21 L479.30,166.79 L479.94,166.38 L480.58,165.97 L481.22,165.56 L481.86,165.15 L482.50,164.74 L483.14,164.33 L483.78,163.92 L484.42,163.52 L485.06,163.11 L485.70,162.70 L486.34,162.30 L486.98,161.89 L487.62,161.49 L488.26,161.09 L488.90,160.69" fill="none" stroke="#5e5e5e" stroke-width="1.5" stroke-linejoin="round"/>
<rect x="297.5" y="67.4" width="191.4" height="190.9" fill="none" stroke="#505050" stroke-width="1.2"/>
<text x="89.74" y="62.3" font-size="11.4" font-weight="bold" class="san" fill="#111" textLength="155.49" lengthAdjust="spacingAndGlyphs">Growth Curves at Constant a</text>
<text x="245.62" y="64.4" font-size="7.8" font-weight="bold" class="san" fill="#111" textLength="5.96" lengthAdjust="spacingAndGlyphs">w</text>
<text x="317.84" y="62.1" font-size="11.4" font-weight="bold" class="san" fill="#111" textLength="136.43" lengthAdjust="spacingAndGlyphs">Predicted Growth Curves</text>
<text x="270.14" y="275.0" font-size="13.4" font-weight="bold" class="san" fill="#111" textLength="33.65" lengthAdjust="spacingAndGlyphs">Time</text>
<text transform="translate(63.6,167.8) rotate(-90)" font-size="14.5" font-style="italic" font-weight="bold" class="san" fill="#111" textLength="22" lengthAdjust="spacingAndGlyphs">Y(t)</text>
<line x1="74.3" y1="325.0" x2="182.9" y2="303.2" stroke="#666" stroke-width="1.3"/>
<line x1="29.1" y1="334.1" x2="36.0" y2="332.7" stroke="#666" stroke-width="1.2"/>
<line x1="44.7" y1="330.9" x2="51.2" y2="329.6" stroke="#666" stroke-width="1.1"/>
<circle cx="45.7" cy="330.9" r="1.6" fill="#6a6a6a" stroke="#222" stroke-width="0.9"/>
<line x1="61.1" y1="327.7" x2="67.6" y2="326.3" stroke="#666" stroke-width="1.1"/>
<circle cx="62.1" cy="327.7" r="1.6" fill="#6a6a6a" stroke="#222" stroke-width="0.9"/>
<line x1="45.7" y1="349.3" x2="45.7" y2="339.6" stroke="#111" stroke-width="1.2"/>
<polygon points="45.7,334.8 48.3,340.6 43.1,340.6" fill="#111"/>
<line x1="62.1" y1="349.3" x2="62.1" y2="336.0" stroke="#111" stroke-width="1.2"/>
<polygon points="62.1,331.2 64.7,337.0 59.5,337.0" fill="#111"/>
<text x="31.93" y="356.5" font-size="9.2" font-weight="bold" class="san" fill="#111" textLength="55.68" lengthAdjust="spacingAndGlyphs">extrapolated</text>
<line x1="29.1" y1="443.7" x2="182.9" y2="443.7" stroke="#8c8c8c" stroke-width="1.3"/>
<line x1="29.1" y1="290.2" x2="29.1" y2="443.7" stroke="#8c8c8c" stroke-width="1.3"/>
<line x1="28.5" y1="290.2" x2="183.5" y2="290.2" stroke="#444" stroke-width="1.4"/>
<line x1="182.9" y1="290.2" x2="182.9" y2="444.3" stroke="#4c4c4c" stroke-width="1.4"/>
<path d="M252.80,411.67 L254.07,410.61 L255.33,409.53 L256.60,408.42 L257.86,407.28 L259.13,406.13 L260.39,404.94 L261.66,403.73 L262.92,402.50 L264.19,401.24 L265.45,399.95 L266.72,398.64 L267.98,397.31 L269.25,395.96 L270.51,394.58 L271.78,393.18 L273.04,391.75 L274.31,390.31 L275.57,388.85 L276.84,387.36 L278.10,385.86 L279.37,384.34 L280.63,382.81 L281.90,381.25 L283.16,379.69 L284.43,378.11 L285.69,376.52 L286.96,374.92 L288.22,373.31 L289.49,371.70 L290.76,370.07 L292.02,368.45 L293.29,366.82 L294.55,365.19 L295.82,363.56 L297.08,361.94 L298.35,360.32 L299.61,358.70 L300.88,357.10 L302.14,355.50 L303.41,353.91 L304.67,352.34 L305.94,350.78 L307.20,349.23 L308.47,347.71 L309.73,346.20 L311.00,344.71 L312.26,343.25 L313.53,341.81 L314.79,340.39 L316.06,339.00 L317.32,337.63 L318.59,336.29 L319.85,334.97 L321.12,333.69 L322.38,332.44 L323.65,331.21 L324.91,330.02 L326.18,328.85 L327.44,327.72 L328.71,326.61 L329.98,325.54 L331.24,324.50 L332.51,323.49 L333.77,322.51 L335.04,321.56 L336.30,320.65 L337.57,319.76 L338.83,318.90 L340.10,318.07 L341.36,317.27 L342.63,316.50 L343.89,315.76 L345.16,315.04 L346.42,314.35 L347.69,313.69 L348.95,313.05 L350.22,312.44 L351.48,311.85 L352.75,311.29 L354.01,310.75 L355.28,310.23 L356.54,309.73 L357.81,309.25 L359.07,308.80 L360.34,308.36 L361.60,307.94 L362.87,307.54 L364.13,307.16 L365.40,306.79" fill="none" stroke="#666" stroke-width="1.3" stroke-linejoin="round"/>
<line x1="212.9" y1="434.0" x2="219.7" y2="431.5" stroke="#666" stroke-width="1.2"/>
<line x1="227.2" y1="428.2" x2="234.1" y2="424.6" stroke="#666" stroke-width="1.1"/>
<circle cx="228.9" cy="427.3" r="1.6" fill="#6a6a6a" stroke="#222" stroke-width="0.9"/>
<line x1="240.6" y1="420.7" x2="245.8" y2="417.1" stroke="#666" stroke-width="1.1"/>
<circle cx="245.3" cy="417.5" r="1.6" fill="#6a6a6a" stroke="#222" stroke-width="0.9"/>
<line x1="228.4" y1="398.0" x2="228.4" y2="418.2" stroke="#111" stroke-width="1.2"/>
<polygon points="228.4,423.0 225.8,417.2 231.0,417.2" fill="#111"/>
<line x1="230.0" y1="398.0" x2="238.9" y2="412.4" stroke="#111" stroke-width="1.2"/>
<polygon points="241.4,416.5 236.1,412.9 240.6,410.2" fill="#111"/>
<text x="214.15" y="393.6" font-size="9.2" font-weight="bold" class="san" fill="#111" textLength="53.95" lengthAdjust="spacingAndGlyphs">extrapolated</text>
<line x1="213.0" y1="443.1" x2="365.4" y2="443.1" stroke="#8c8c8c" stroke-width="1.3"/>
<line x1="213.0" y1="290.3" x2="213.0" y2="443.1" stroke="#8c8c8c" stroke-width="1.3"/>
<line x1="212.4" y1="290.3" x2="366.0" y2="290.3" stroke="#444" stroke-width="1.4"/>
<line x1="365.4" y1="290.3" x2="365.4" y2="443.7" stroke="#4c4c4c" stroke-width="1.4"/>
<path d="M440.40,382.11 L441.77,383.66 L443.14,385.18 L444.52,386.66 L445.89,388.10 L447.26,389.52 L448.63,390.89 L450.01,392.24 L451.38,393.55 L452.75,394.84 L454.12,396.09 L455.49,397.31 L456.87,398.50 L458.24,399.67 L459.61,400.80 L460.98,401.91 L462.35,402.99 L463.73,404.05 L465.10,405.08 L466.47,406.08 L467.84,407.06 L469.22,408.02 L470.59,408.95 L471.96,409.86 L473.33,410.74 L474.70,411.61 L476.08,412.45 L477.45,413.27 L478.82,414.07 L480.19,414.85 L481.56,415.61 L482.94,416.35 L484.31,417.07 L485.68,417.77 L487.05,418.45 L488.43,419.12 L489.80,419.76 L491.17,420.40 L492.54,421.01 L493.91,421.61 L495.29,422.19 L496.66,422.75 L498.03,423.30 L499.40,423.84 L500.77,424.36 L502.15,424.86 L503.52,425.36 L504.89,425.83 L506.26,426.30 L507.64,426.75 L509.01,427.19 L510.38,427.61 L511.75,428.02 L513.12,428.43 L514.50,428.81 L515.87,429.19 L517.24,429.56 L518.61,429.91 L519.98,430.25 L521.36,430.59 L522.73,430.91 L524.10,431.22 L525.47,431.52 L526.85,431.81 L528.22,432.10 L529.59,432.37 L530.96,432.63 L532.33,432.89 L533.71,433.13 L535.08,433.37 L536.45,433.60 L537.82,433.82 L539.19,434.03 L540.57,434.23 L541.94,434.43 L543.31,434.62 L544.68,434.80 L546.06,434.97 L547.43,435.14 L548.80,435.30" fill="none" stroke="#666" stroke-width="1.3" stroke-linejoin="round"/>
<line x1="395.9" y1="306.2" x2="398.5" y2="312.3" stroke="#666" stroke-width="1.2"/>
<line x1="400.6" y1="317.1" x2="403.8" y2="324.1" stroke="#666" stroke-width="1.2"/>
<line x1="407.1" y1="330.9" x2="411.4" y2="339.2" stroke="#666" stroke-width="1.2"/>
<line x1="415.2" y1="346.1" x2="418.9" y2="352.4" stroke="#666" stroke-width="1.2"/>
<line x1="423.2" y1="359.2" x2="428.0" y2="366.3" stroke="#666" stroke-width="1.2"/>
<line x1="431.8" y1="371.5" x2="436.1" y2="377.0" stroke="#666" stroke-width="1.2"/>
<circle cx="412.0" cy="340.3" r="2.0" fill="#111"/>
<circle cx="428.6" cy="367.1" r="2.0" fill="#111"/>
<line x1="436.1" y1="340.2" x2="420.0" y2="340.2" stroke="#111" stroke-width="1.2"/>
<polygon points="415.2,340.2 421.0,337.6 421.0,342.8" fill="#111"/>
<line x1="439.7" y1="345.5" x2="432.8" y2="359.9" stroke="#111" stroke-width="1.2"/>
<polygon points="430.7,364.2 430.9,357.8 435.6,360.1" fill="#111"/>
<text x="436.34" y="342.3" font-size="9.2" font-weight="bold" class="san" fill="#111" textLength="54.77" lengthAdjust="spacingAndGlyphs">extrapolated</text>
<line x1="395.9" y1="444.1" x2="548.8" y2="444.1" stroke="#8c8c8c" stroke-width="1.3"/>
<line x1="395.9" y1="290.8" x2="395.9" y2="444.1" stroke="#8c8c8c" stroke-width="1.3"/>
<line x1="395.3" y1="290.8" x2="549.4" y2="290.8" stroke="#444" stroke-width="1.4"/>
<line x1="548.8" y1="290.8" x2="548.8" y2="444.7" stroke="#4c4c4c" stroke-width="1.4"/>
<text x="230.39" y="460.7" font-size="13.6" font-weight="bold" class="san" fill="#111" textLength="93.59" lengthAdjust="spacingAndGlyphs">Water activity</text>
<text transform="translate(12.6,399.3) rotate(-90)" class="san" font-weight="bold" fill="#111" stroke="#111" stroke-width="0.2" font-size="15" textLength="68.0" lengthAdjust="spacingAndGlyphs"><tspan font-style="italic">Y</tspan><tspan font-size="10.5" dy="3">Asymp</tspan><tspan dy="-3">(</tspan><tspan font-style="italic">a</tspan><tspan font-size="10" dy="3">w</tspan><tspan dy="-3">)</tspan></text>
<text transform="translate(200.9,376.3) rotate(-90)" class="san" font-weight="bold" fill="#111" stroke="#111" stroke-width="0.2" font-size="15" textLength="37.0" lengthAdjust="spacingAndGlyphs"><tspan font-style="italic">k</tspan> (<tspan font-style="italic">a</tspan><tspan font-size="10" dy="3">w</tspan><tspan dy="-3">)</tspan></text>
<text transform="translate(383.0,375.4) rotate(-90)" class="san" font-weight="bold" fill="#111" stroke="#111" stroke-width="0.2" font-size="15" textLength="36.2" lengthAdjust="spacingAndGlyphs"><tspan font-style="italic">t</tspan><tspan font-size="10" dy="3">c</tspan><tspan dy="-3">(</tspan><tspan font-style="italic">a</tspan><tspan font-size="10" dy="3">w</tspan><tspan dy="-3">)</tspan></text>
</svg>
</body></html>
